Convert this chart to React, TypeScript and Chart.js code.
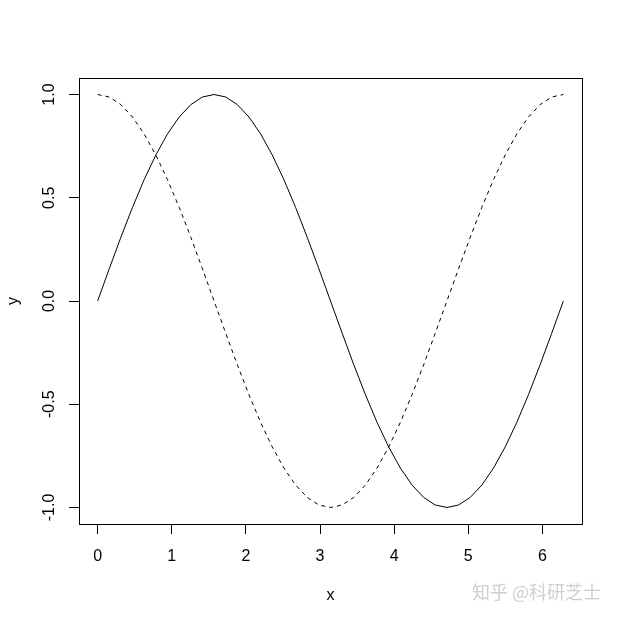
import React, { useEffect, useRef } from "react";
import { Chart, registerables } from "chart.js";

Chart.register(...registerables);

const xValues = [0, 0.157, 0.314, 0.471, 0.628, 0.785, 0.942, 1.1, 1.257, 1.414, 1.571, 1.728, 1.885, 2.042, 2.199, 2.356, 2.513, 2.67, 2.827, 2.985, 3.142, 3.299, 3.456, 3.613, 3.77, 3.927, 4.084, 4.241, 4.398, 4.555, 4.712, 4.869, 5.027, 5.184, 5.341, 5.498, 5.655, 5.812, 5.969, 6.126, 6.283];
const sinValues = [0, 0.156, 0.309, 0.454, 0.588, 0.707, 0.809, 0.891, 0.951, 0.988, 1, 0.988, 0.951, 0.891, 0.809, 0.707, 0.588, 0.454, 0.309, 0.156, 0, -0.156, -0.309, -0.454, -0.588, -0.707, -0.809, -0.891, -0.951, -0.988, -1, -0.988, -0.951, -0.891, -0.809, -0.707, -0.588, -0.454, -0.309, -0.156, 0];
const cosValues = [1, 0.988, 0.951, 0.891, 0.809, 0.707, 0.588, 0.454, 0.309, 0.156, 0, -0.156, -0.309, -0.454, -0.588, -0.707, -0.809, -0.891, -0.951, -0.988, -1, -0.988, -0.951, -0.891, -0.809, -0.707, -0.588, -0.454, -0.309, -0.156, 0, 0.156, 0.309, 0.454, 0.588, 0.707, 0.809, 0.891, 0.951, 0.988, 1];
const xTicks = [0, 1, 2, 3, 4, 5, 6];
const yTicks = [-1.0, -0.5, 0.0, 0.5, 1.0];
const xRange = [-0.2513, 6.5345];
const yRange = [-1.08, 1.08];
const watermark = "知乎 @科研芝士";

const FONT = "'Liberation Sans', Arial, sans-serif";

export default function App() {
  const ref = useRef<HTMLCanvasElement>(null);
  useEffect(() => {
    if (!ref.current) return;
    const boxPlugin = {
      id: "box",
      afterDraw(chart: any) {
        const { ctx, chartArea } = chart;
        ctx.save();
        ctx.strokeStyle = "#000";
        ctx.lineWidth = 1;
        ctx.strokeRect(
          Math.round(chartArea.left) + 0.5,
          Math.round(chartArea.top) + 0.5,
          Math.round(chartArea.right - chartArea.left),
          Math.round(chartArea.bottom - chartArea.top)
        );
        // y tick labels, rotated like R's default
        const ys = chart.scales.y;
        ctx.fillStyle = "#000";
        ctx.font = "16px " + FONT;
        ctx.textAlign = "center";
        ctx.textBaseline = "middle";
        yTicks.forEach((v) => {
          const py = ys.getPixelForValue(v);
          ctx.save();
          ctx.translate(50, py);
          ctx.rotate(-Math.PI / 2);
          ctx.fillText(v.toFixed(1), 0, 0);
          ctx.restore();
        });
        ctx.fillStyle = "#cfcfcf";
        ctx.font = "18px 'Noto Sans CJK SC', sans-serif";
        ctx.textBaseline = "middle";
        ctx.textAlign = "left";
        ctx.fillText(watermark, 472, 592);
        ctx.restore();
      },
    };
    const chart = new Chart(ref.current, {
      type: "line",
      data: {
        datasets: [
          {
            data: xValues.map((x, i) => ({ x, y: sinValues[i] })),
            borderColor: "#000",
            borderWidth: 1,
            pointRadius: 0,
            tension: 0,
          },
          {
            data: xValues.map((x, i) => ({ x, y: cosValues[i] })),
            borderColor: "#000",
            borderWidth: 1,
            borderDash: [4, 4],
            pointRadius: 0,
            tension: 0,
          },
        ],
      },
      options: {
        animation: false,
        responsive: false,
        devicePixelRatio: 1,
        layout: { padding: { left: 0, top: 78, right: 40, bottom: 0 } },
        plugins: { legend: { display: false }, tooltip: { enabled: false } },
        scales: {
          x: {
            type: "linear",
            min: xRange[0],
            max: xRange[1],
            afterBuildTicks: (axis: any) => {
              axis.ticks = xTicks.map((v) => ({ value: v }));
            },
            afterFit: (axis: any) => {
              axis.height = 97;
            },
            grid: { drawOnChartArea: false, drawTicks: true, tickLength: 10, color: "#000", lineWidth: 1 },
            border: { display: false },
            ticks: { color: "#000", font: { family: FONT, size: 16 }, padding: 13, maxRotation: 0, callback: (v: any) => String(v) },
            title: { display: true, text: "x", color: "#000", font: { family: FONT, size: 16 }, padding: { top: 0, bottom: 16 } },
          },
          y: {
            type: "linear",
            min: yRange[0],
            max: yRange[1],
            afterBuildTicks: (axis: any) => {
              axis.ticks = yTicks.map((v) => ({ value: v }));
            },
            afterFit: (axis: any) => {
              axis.width = 79;
            },
            grid: { drawOnChartArea: false, drawTicks: true, tickLength: 10, color: "#000", lineWidth: 1 },
            border: { display: false },
            ticks: { display: false },
            title: { display: true, text: "y", color: "#000", font: { family: FONT, size: 16 }, padding: { top: 4, bottom: 0 } },
          },
        },
      },
      plugins: [boxPlugin],
    });
    return () => chart.destroy();
  }, []);
  return (
    <div style={{ position: "absolute", left: 0, top: 0, width: 622, height: 621, background: "#fff" }}>
      <canvas ref={ref} width={622} height={621} style={{ width: 622, height: 621 }} />
    </div>
  );
}
